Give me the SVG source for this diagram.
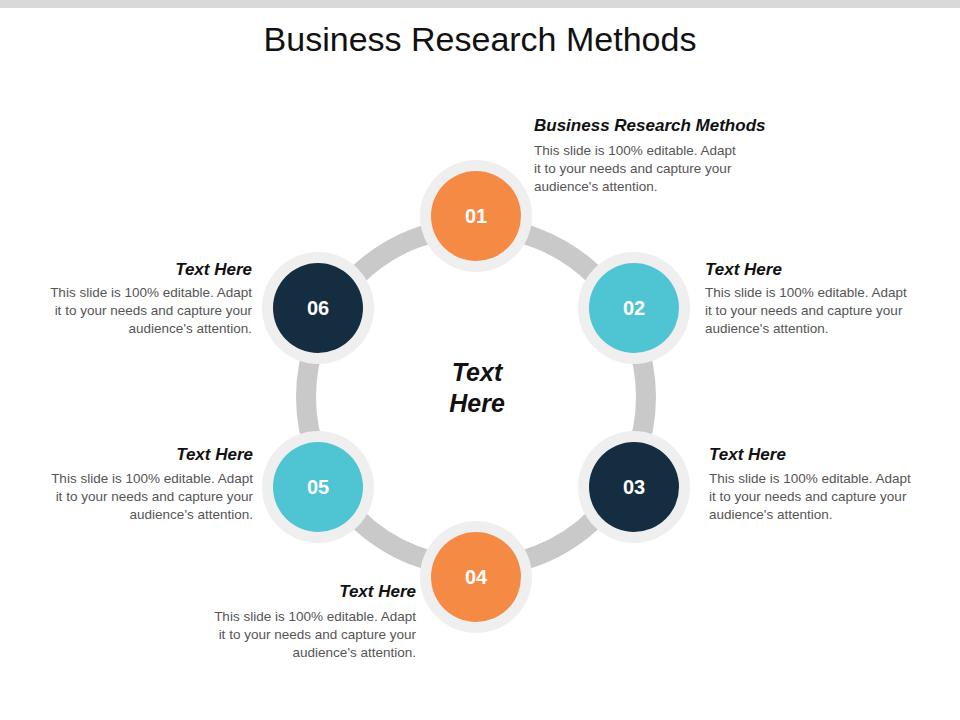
<svg xmlns="http://www.w3.org/2000/svg" width="960" height="720" viewBox="0 0 960 720">
<style>
.t{font-family:"Liberation Sans",Arial,sans-serif}
.h{font-size:17px;font-weight:bold;font-style:italic;fill:#111}
.b{font-size:13.5px;fill:#555}
.n{font-size:20px;font-weight:bold;fill:#fff}
.halo{fill:#efefef}
</style>
<rect width="960" height="720" fill="#fff"/>
<rect width="960" height="8" fill="#d9d9d9"/>
<text class="t" x="480" y="51" font-size="34" text-anchor="middle" fill="#111">Business Research Methods</text>
<g id="connectors"><circle cx="476" cy="397" r="170" fill="none" stroke="#c9c9c9" stroke-width="20"/></g>
<g id="n01"><circle class="halo" cx="476" cy="216" r="56"/><circle cx="476" cy="216" r="45" fill="#f58a45"/><text class="t n" x="476" y="223" text-anchor="middle">01</text></g>
<g id="n02"><circle class="halo" cx="634" cy="308" r="56"/><circle cx="634" cy="308" r="45" fill="#4fc4d3"/><text class="t n" x="634" y="315" text-anchor="middle">02</text></g>
<g id="n03"><circle class="halo" cx="634" cy="487" r="56"/><circle cx="634" cy="487" r="45" fill="#142d40"/><text class="t n" x="634" y="494" text-anchor="middle">03</text></g>
<g id="n04"><circle class="halo" cx="476" cy="577" r="56"/><circle cx="476" cy="577" r="45" fill="#f58a45"/><text class="t n" x="476" y="584" text-anchor="middle">04</text></g>
<g id="n05"><circle class="halo" cx="318" cy="487" r="56"/><circle cx="318" cy="487" r="45" fill="#4fc4d3"/><text class="t n" x="318" y="494" text-anchor="middle">05</text></g>
<g id="n06"><circle class="halo" cx="318" cy="308" r="56"/><circle cx="318" cy="308" r="45" fill="#142d40"/><text class="t n" x="318" y="315" text-anchor="middle">06</text></g>
<g id="center"><text class="t" x="477" y="381" font-size="25" font-weight="bold" font-style="italic" text-anchor="middle" fill="#111">Text</text><text class="t" x="477" y="412" font-size="25" font-weight="bold" font-style="italic" text-anchor="middle" fill="#111">Here</text></g>
<g id="l01" class="t"><text class="h" x="534" y="131">Business Research Methods</text><text class="b" x="534" y="155">This slide is 100% editable. Adapt</text><text class="b" x="534" y="173">it to your needs and capture your</text><text class="b" x="534" y="191">audience's attention.</text></g>
<g id="l02" class="t"><text class="h" x="705" y="275">Text Here</text><text class="b" x="705" y="297">This slide is 100% editable. Adapt</text><text class="b" x="705" y="315">it to your needs and capture your</text><text class="b" x="705" y="333">audience's attention.</text></g>
<g id="l03" class="t"><text class="h" x="709" y="460">Text Here</text><text class="b" x="709" y="483">This slide is 100% editable. Adapt</text><text class="b" x="709" y="501">it to your needs and capture your</text><text class="b" x="709" y="519">audience's attention.</text></g>
<g id="l04" class="t" text-anchor="end"><text class="h" x="416" y="597">Text Here</text><text class="b" x="416" y="621">This slide is 100% editable. Adapt</text><text class="b" x="416" y="639">it to your needs and capture your</text><text class="b" x="416" y="657">audience's attention.</text></g>
<g id="l05" class="t" text-anchor="end"><text class="h" x="253" y="460">Text Here</text><text class="b" x="253" y="483">This slide is 100% editable. Adapt</text><text class="b" x="253" y="501">it to your needs and capture your</text><text class="b" x="253" y="519">audience's attention.</text></g>
<g id="l06" class="t" text-anchor="end"><text class="h" x="252" y="275">Text Here</text><text class="b" x="252" y="297">This slide is 100% editable. Adapt</text><text class="b" x="252" y="315">it to your needs and capture your</text><text class="b" x="252" y="333">audience's attention.</text></g>
</svg>
